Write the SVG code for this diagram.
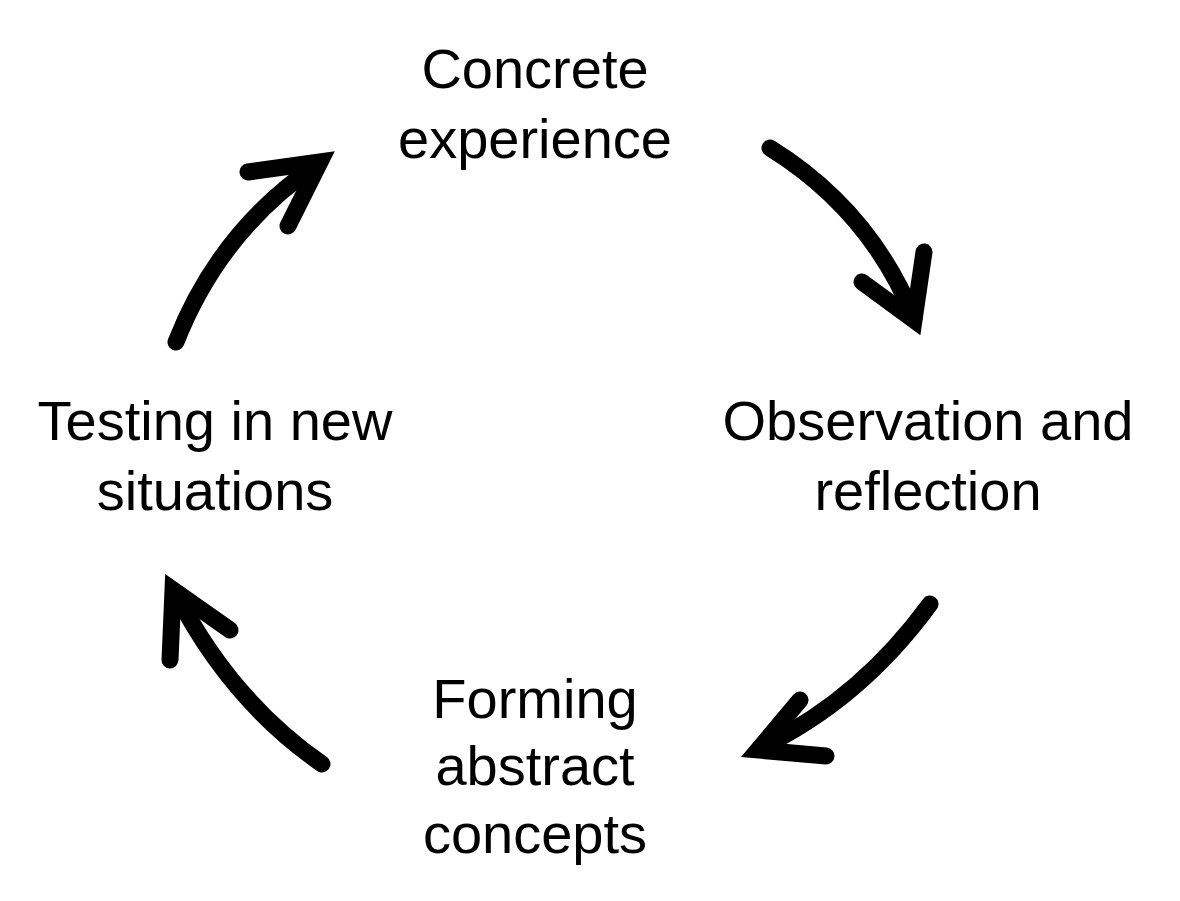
<svg xmlns="http://www.w3.org/2000/svg" width="1180" height="901" viewBox="0 0 1180 901">
<style>
text{font-family:"Liberation Sans",Arial,sans-serif;font-size:56px;fill:#000;text-anchor:middle}
.a{fill:none;stroke:#000;stroke-width:17;stroke-linecap:round;stroke-linejoin:miter}
</style>
<rect width="1180" height="901" fill="#fff"/>
<g id="concrete"><text x="535" y="88">Concrete</text><text x="535" y="158">experience</text></g>
<g id="observation"><text x="928" y="440">Observation and</text><text x="928" y="510">reflection</text></g>
<g id="forming"><text x="535" y="718">Forming</text><text x="535" y="785">abstract</text><text x="535" y="853">concepts</text></g>
<g id="testing"><text x="215" y="440">Testing in new</text><text x="215" y="510">situations</text></g>
<g id="connectors">
<path class="a" d="M770 148 Q870 210 914 318"/>
<polyline class="a" points="862,282 914,320 924,252"/>
<path class="a" d="M930 604 Q860 700 760 748"/>
<polyline class="a" points="800,700 758,750 826,756"/>
<path class="a" d="M322 764 Q230 700 175 592"/>
<polyline class="a" points="170,660 173,590 230,630"/>
<path class="a" d="M176 342 Q220 230 318 164"/>
<polyline class="a" points="248,172 320,162 288,226"/>
</g>
</svg>
